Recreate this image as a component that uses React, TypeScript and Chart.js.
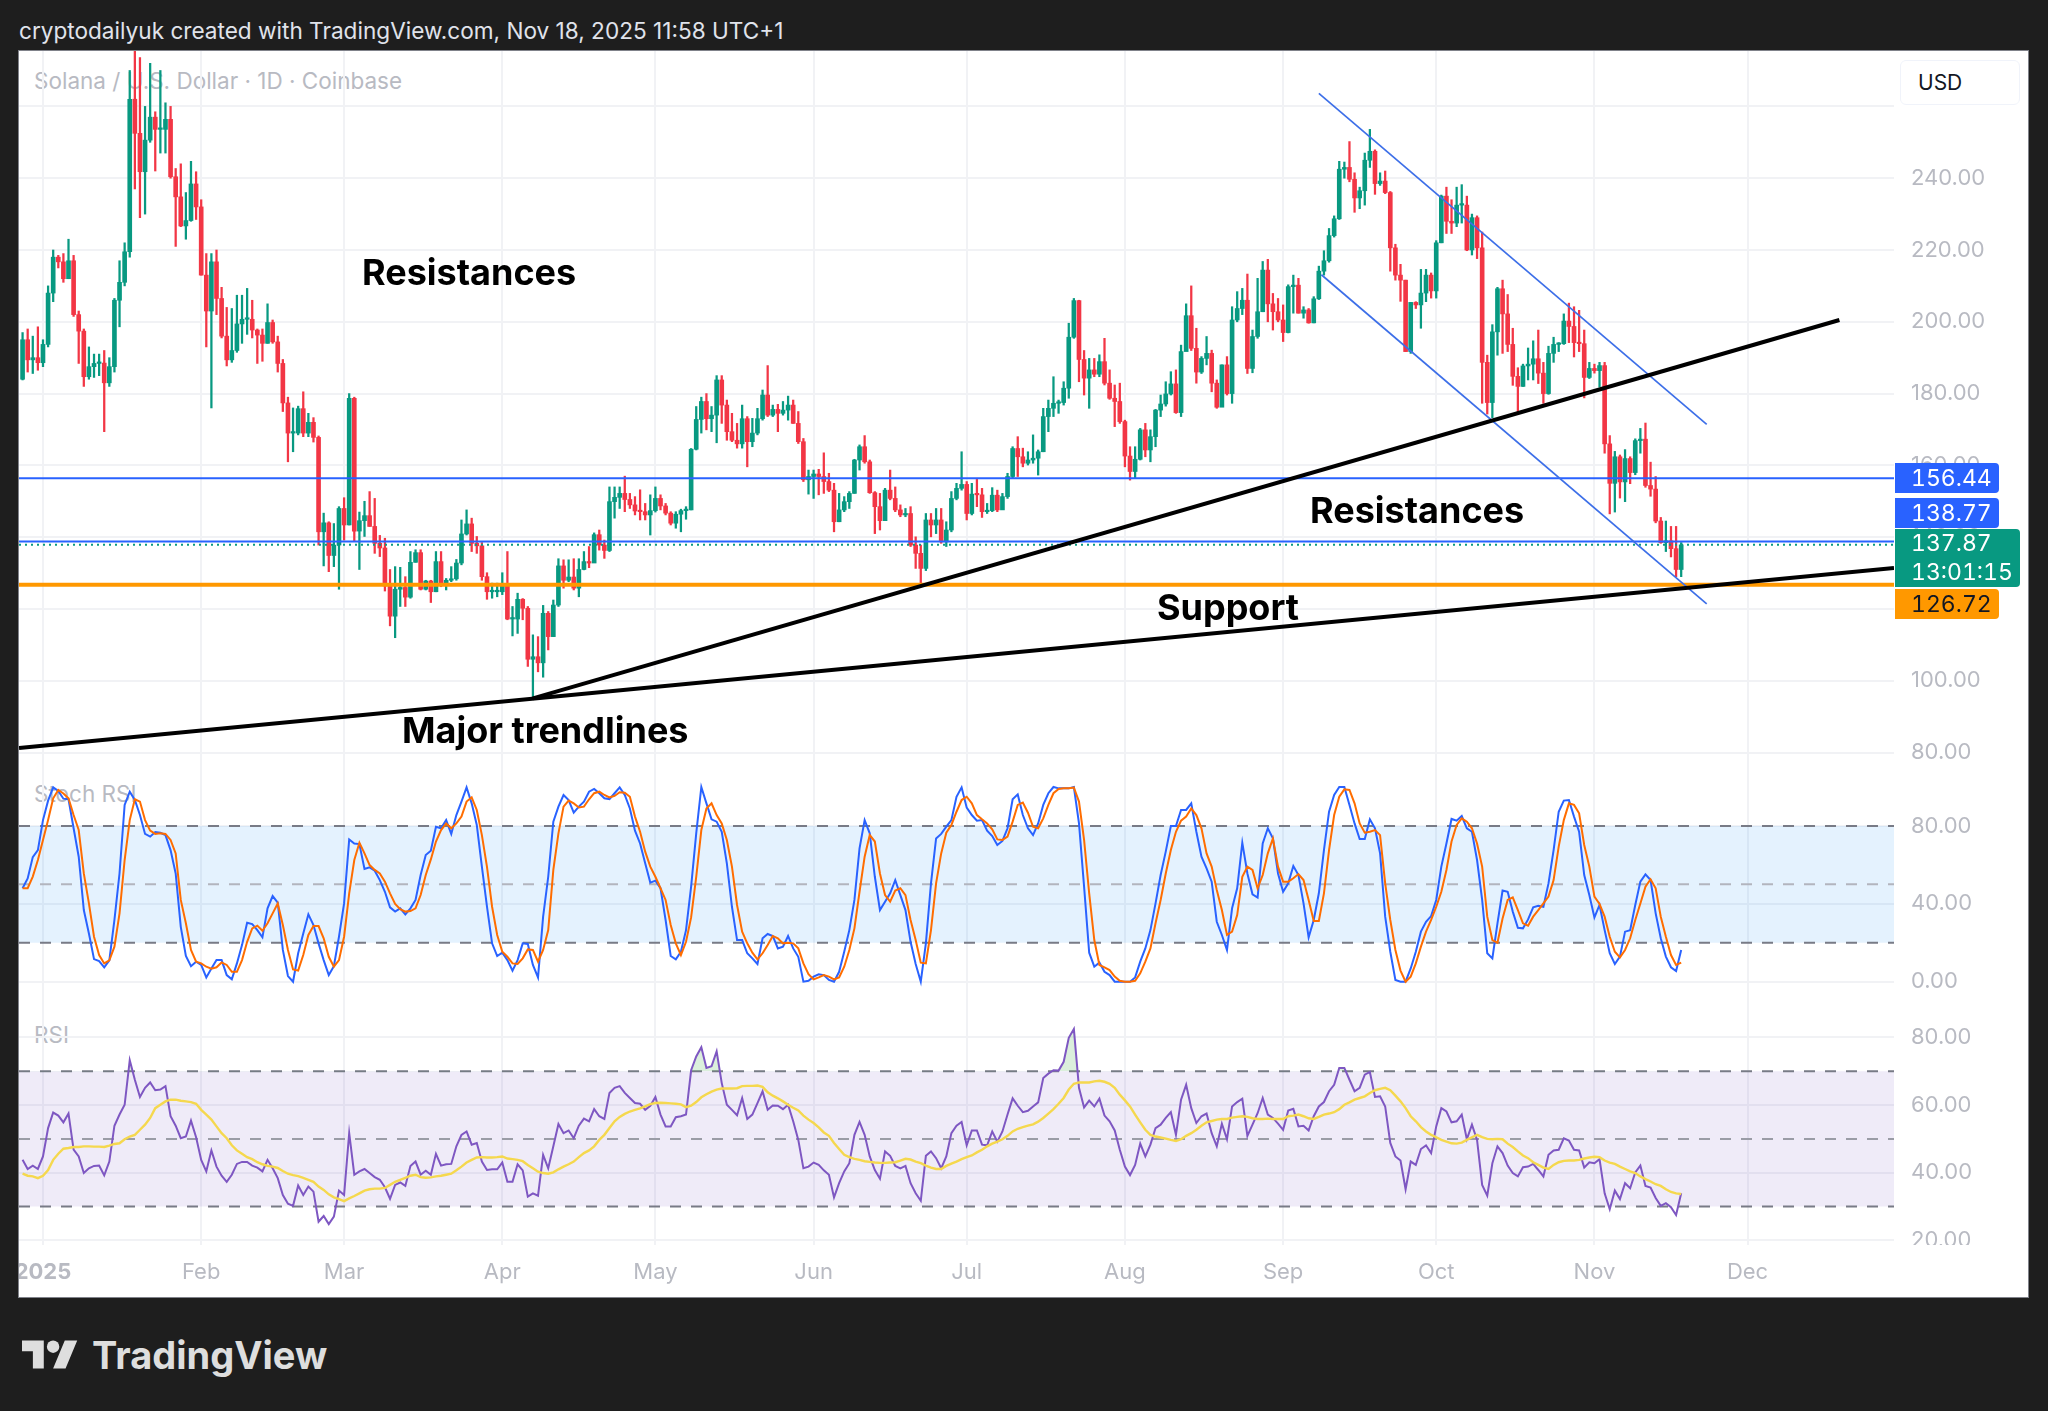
import { useEffect, useRef } from "react";
import { Chart, registerables } from "chart.js";

Chart.register(...registerables);

// x is days since Jan 1 2025, first candle is Dec 28 2024
const firstDay = -4;
const firstOpen = 184;
const xMin = -4.7;
const xMax = 362.7;

const monthTicks = [0, 31, 59, 90, 120, 151, 181, 212, 243, 273, 304, 334];
const monthLabels = ["2025", "Feb", "Mar", "Apr", "May", "Jun", "Jul", "Aug", "Sep", "Oct", "Nov", "Dec"];

const priceTicks = [80, 100, 120, 140, 160, 180, 200, 220, 240, 260];
const stochTicks = [0, 40, 80];
const rsiTicks = [20, 40, 60, 80];

const closes = [
  195, 189.4, 190, 188.6, 193.7, 208, 218, 216.7, 212, 217,
  202, 197.4, 184.7, 187.5, 188.4, 188.5, 183, 187.5, 206, 211,
  219.5, 262, 252.5, 241.8, 250.6, 257, 253.6, 253.6, 256.4, 240.4,
  234.8, 226.7, 228.2, 238.4, 232, 213, 203, 216.7, 206.5, 196,
  189.4, 192, 199.4, 200.7, 200.7, 197.7, 196.3, 194, 199.8, 194.4,
  188.4, 177.4, 169, 169, 175.8, 169, 172, 167.8, 141.5, 144,
  134.9, 137.8, 148, 143.4, 178.7, 141.7, 144.6, 146, 143, 138.3,
  137, 126.4, 118, 125.5, 126, 123.3, 133, 135.7, 125.5, 127.8,
  124.8, 133.2, 126.7, 128, 128.4, 132.8, 140.9, 143.7, 138.3, 137.6,
  129, 124.8, 124.8, 124.8, 126.4, 117.2, 117.2, 122.7, 120.2, 106,
  106.7, 105, 118.8, 112.3, 121.1, 132, 128, 128.9, 125.8, 131,
  133.2, 132.8, 140.7, 137.8, 136.3, 149.9, 151.1, 152.2, 150.5, 149,
  147.3, 147.1, 146.2, 147.4, 150.8, 148.7, 146.7, 143.9, 146.4, 147.4,
  147.6, 164.5, 172.8, 177.8, 173, 174, 183.8, 176.8, 169.4, 167,
  166, 173, 166.6, 169, 173, 179.6, 174, 175.6, 174.5, 175.4,
  176.8, 171.7, 166.6, 156, 156.9, 157.6, 156.9, 155.5, 153.1, 144.3,
  147.6, 149.9, 152.2, 161.5, 165.2, 161, 152.4, 148.5, 144.6, 153.1,
  150.8, 147.6, 146.2, 146.6, 137.8, 135.5, 131.3, 144.8, 143.4, 144.8,
  138.7, 142, 150.8, 153.6, 154.7, 146.6, 152, 151.8, 147.1, 147.4,
  151.7, 147.6, 151.3, 156.9, 164.7, 162.4, 160.6, 161.5, 162, 163.8,
  173.6, 175.9, 177.3, 177.5, 181.5, 195.7, 205.9, 189.5, 184.3, 186.6,
  185.4, 188.9, 182.9, 178.7, 177.8, 172.2, 162.6, 158.3, 161.7, 169.9,
  164.3, 168, 175.4, 177.1, 179.9, 182.7, 174.7, 191.7, 201.7, 192.6,
  186, 189.8, 191.2, 182.9, 176.2, 188, 180, 200.5, 203.7, 206,
  187, 195.9, 202.8, 214.4, 205, 202.8, 200.5, 197, 209.8, 210.2,
  202.4, 203.3, 199.7, 206.4, 214.1, 217, 224, 228.7, 242.5, 243,
  239.7, 234.5, 236.5, 245, 247.5, 238.5, 239.2, 236, 220.6, 213,
  211.6, 191.7, 205.4, 204.7, 208, 213, 208.6, 222, 235, 228,
  227.5, 232.5, 232.5, 220, 229, 220.6, 188.7, 177.5, 197.2, 209.2,
  202.2, 193.7, 184.8, 182, 187.7, 188.2, 189.7, 185.7, 180, 191.2,
  193.7, 193.9, 200.2, 198.7, 194.2, 193.9, 184.5, 187, 186.4, 187.8,
  166, 155, 162.4, 155.4, 161.9, 158, 166.9, 167.3, 154.4, 153.4,
  144.5, 138.5, 139, 136.8, 131, 137.87,
];

const highs = [
  197, 198, 196, 198.6, 195, 210, 220, 218.5, 219, 223,
  218.5, 203, 198, 193, 191, 191, 192, 190, 206.5, 217,
  222, 270, 296, 273.6, 260, 272, 258.5, 270, 261, 260,
  242.7, 244, 236, 244.7, 241.8, 234, 219, 219, 220, 209.6,
  204, 203.7, 207.4, 207.4, 209.3, 206, 198, 198, 205, 200.5,
  196, 189.5, 179, 176, 176.5, 180.5, 174.5, 173.3, 168.2, 146.7,
  144.3, 143.8, 148.5, 151, 180, 179, 147, 150, 152.7, 150.8,
  140.5, 139.7, 131, 131.8, 131.6, 129, 136, 136.5, 136.5, 128,
  128, 136, 136, 128.5, 131.8, 133.8, 144.8, 147.6, 145.3, 140.2,
  138.5, 130.1, 127.2, 127.2, 130.1, 136, 120.7, 124.4, 122.9, 120.7,
  112.8, 112.3, 121, 119.3, 122.5, 134, 133.7, 133.7, 134, 134,
  136, 137.4, 141.2, 142, 139.2, 154, 154, 154, 157, 152.2,
  151.3, 153.2, 149.4, 151.8, 154, 151.8, 149.4, 147.1, 147.1, 147.8,
  148.5, 164.7, 176.4, 179, 180, 176.4, 185, 185, 178.2, 174.5,
  171.7, 176.8, 173.6, 173.1, 175.9, 181, 187.8, 176.8, 177, 177.8,
  179.3, 178.2, 175, 167.5, 158.7, 158.7, 158.9, 163.5, 157.8, 155,
  152.2, 151.3, 152.7, 161.7, 165.7, 168.3, 161.5, 152.7, 152.2, 153.6,
  158.7, 154, 149, 148, 148.5, 140.1, 137.8, 146.6, 146.6, 148,
  148, 144.3, 152.7, 155, 163.8, 155.5, 155, 156.1, 153.6, 149.4,
  153.8, 153.1, 152.2, 157.8, 165.2, 168, 164.8, 163.8, 168.5, 164.3,
  175.9, 178.2, 184.7, 178.2, 183.3, 199.6, 206.5, 206, 192, 189.8,
  189.8, 190.8, 195.4, 186.6, 182.4, 182.9, 172.6, 165.2, 165.2, 170.3,
  171.7, 169.9, 175.6, 179.6, 183.3, 186.1, 186.6, 193.5, 205, 210,
  198.2, 190.3, 195.9, 192.1, 183.8, 188, 190.3, 204.2, 208.4, 209.3,
  213.3, 197.7, 212.1, 216.8, 217.4, 207.9, 206.5, 204.7, 210.3, 213,
  212.1, 204.2, 203.7, 207, 215.5, 219.8, 226, 229.5, 244.7, 244.5,
  250.2, 241.5, 237.5, 247, 253.6, 247.9, 241.5, 242, 236.3, 221.6,
  216, 211.6, 205.4, 205.6, 214.6, 214.6, 213.6, 222.6, 235.3, 237.5,
  234, 237.5, 238.2, 235, 230, 229.5, 225, 190.7, 199.2, 209.6,
  211.6, 207.6, 198.2, 187.2, 188.2, 192.7, 194.7, 197.7, 188.7, 193.2,
  195.7, 194.2, 202.2, 205.2, 204.2, 203.2, 197.7, 188.7, 188.2, 188.7,
  188.7, 168.3, 163.9, 162.9, 164.4, 162.4, 167.4, 170.3, 171.8, 160.9,
  156.9, 145.5, 144.5, 143, 143, 138.5,
];

const lows = [
  183.8, 186, 185.6, 186.5, 187.5, 193, 205.6, 215, 211, 212,
  201.5, 188.4, 182, 184, 184.5, 185, 169.4, 182, 186, 198.6,
  210, 218, 237, 229, 230, 250, 242, 247, 247, 240,
  221, 226.5, 223, 228, 228.5, 213, 193, 176, 202, 195.5,
  187.7, 188.7, 191.5, 194, 196.5, 195.5, 188.4, 189, 194, 194,
  186, 175, 161, 163.8, 168.5, 168, 168, 166.5, 137.8, 132,
  130.4, 131.8, 125.5, 139.2, 143.4, 139, 131, 140.2, 143, 135.5,
  134.6, 125, 115.3, 112, 120.7, 120.7, 123, 133, 125.3, 125.3,
  121.8, 124.8, 126.2, 125.3, 127.6, 128, 132.3, 140.6, 136, 135.5,
  128, 122.7, 123, 123.4, 124, 117, 112.5, 113.2, 117, 104,
  95.1, 102.5, 101, 108.6, 112.3, 120.7, 125.8, 127.6, 125.3, 123.4,
  130.9, 131.5, 134, 136.4, 134.1, 136, 145.3, 148, 147.1, 148,
  146.2, 144.8, 144.8, 140.6, 147, 147.6, 146.2, 143.4, 142.5, 141.5,
  145, 147.6, 164.3, 169, 169.9, 169.4, 166.3, 171.7, 167, 166.6,
  164.8, 164.8, 159.6, 165.2, 168.5, 172.6, 173.6, 173.6, 169.4, 174,
  172.6, 171.7, 166.1, 155.5, 152, 150.8, 151.8, 152.2, 152.7, 141.5,
  144.3, 147.1, 148, 152.2, 158.7, 160.6, 152.2, 141, 142, 144.6,
  150.4, 147.1, 145.7, 145.7, 137.4, 131.3, 126.2, 130.7, 140.1, 141,
  138.3, 137.4, 141.5, 150.4, 153.1, 144.8, 146.2, 148.5, 145.5, 146.6,
  147.1, 147.1, 148, 150.8, 156.4, 156.9, 159.6, 160.1, 160.6, 157.3,
  163.8, 169.4, 173.6, 174.5, 176.8, 178.7, 195.4, 183.3, 179.6, 175.9,
  184.7, 184.7, 182.4, 178.4, 170.8, 171.7, 159.6, 155.9, 156.4, 161.5,
  162.4, 161, 165.2, 173.6, 176.5, 179.6, 174.5, 173.6, 192, 192,
  182.9, 185.6, 188, 180.5, 175.9, 176.4, 179.6, 177.3, 200, 202,
  185.6, 185.8, 195.4, 202.8, 200, 197.7, 200, 194.5, 196.9, 202.4,
  202.4, 201, 199.6, 199.7, 206.2, 213, 216.6, 223.6, 228.5, 240,
  239, 230.5, 231.5, 232.5, 243, 235.5, 238, 235.7, 214.1, 211.6,
  205.7, 191.7, 191.2, 203.7, 198.2, 205.6, 206.6, 206.6, 222, 224.6,
  224.6, 226.5, 227.5, 219.8, 218.6, 217.6, 177.3, 174.3, 173.3, 190.7,
  191.2, 191.7, 182.3, 174.3, 182, 183.8, 183.8, 182.8, 177.3, 179.8,
  188.7, 191.7, 193.7, 194.2, 190.2, 191.7, 178.8, 184.2, 185.7, 181.8,
  163.4, 146.5, 147, 150.9, 149.9, 154.9, 157.4, 163.4, 153.9, 151.4,
  144, 138.3, 136, 134.5, 129, 129,
];

const stochK = [
  48, 53, 64, 67.6, 83, 93, 99.8, 98, 94, 93.7,
  78.8, 64.2, 36.8, 24.8, 11.6, 10.6, 7.4, 11, 31.7, 55.7,
  90.8, 97.6, 93.3, 85.6, 75.9, 74.5, 76.9, 76.5, 75.3, 67.6,
  55.6, 28.2, 13.2, 8, 10.3, 8.6, 2.2, 6.8, 11.1, 11.1,
  3.4, 1.2, 9.4, 18.8, 30.3, 29.6, 26.5, 22.8, 37.7, 44,
  40.6, 16.3, 2.9, 0, 14.6, 24.8, 34.6, 29.1, 19.7, 11.1,
  3.4, 8, 23.1, 40.2, 73.1, 71, 70.7, 57.9, 58.7, 57,
  52.2, 46.2, 38.2, 36, 37.7, 34.6, 37.7, 42, 54.8, 65.1,
  67.3, 79.6, 78.8, 83, 75.9, 85.6, 92.5, 99.8, 91.6, 80.5,
  59.1, 38.5, 19.7, 13.2, 14.9, 11.1, 5.7, 11.1, 19.7, 19.4,
  8.6, 2.2, 33.4, 53.9, 82.2, 89.9, 95.9, 93.3, 86.8, 89.9,
  92.5, 97.6, 99, 96.8, 94.2, 93.8, 96.8, 99.8, 95.9, 89,
  77.6, 71, 60.8, 50.9, 51.9, 48, 31.7, 13.2, 11.5, 15.4,
  26.5, 48.8, 76.2, 100, 91.6, 83.4, 82.2, 77, 60.8, 38.5,
  21.4, 21.4, 14.6, 12, 9.1, 22.3, 24.5, 23.5, 17.1, 18,
  23.5, 17.1, 12.8, 0, 0.5, 2.6, 3.8, 3.4, 0.9, 0,
  5.1, 15.4, 26.5, 42, 68.5, 83, 76.2, 53.9, 36.8, 41.1,
  45.4, 52.2, 44.5, 36.8, 20.5, 9.1, 0, 19.7, 50.5, 73.6,
  75.9, 79.6, 83, 95, 99.8, 89.4, 85.6, 82.7, 83, 77.6,
  74.8, 70.2, 72.3, 78.8, 93.7, 96.2, 85.6, 78.8, 75.3, 81.3,
  90.8, 96.8, 100, 99.3, 99.3, 99.3, 100, 81.3, 48.8, 14.9,
  7.7, 9.8, 5.1, 3.4, 0, 0, 0, 0, 2.2, 10.3,
  17.1, 26.5, 40.2, 54.8, 66.8, 80, 80, 88.2, 88.2, 91.6,
  77, 64.2, 58.2, 51.4, 30.8, 24, 16.3, 37.7, 48, 71.4,
  55.6, 44.9, 43.2, 71, 78.8, 73.6, 55.6, 46.2, 50.5, 59.4,
  54.8, 40.2, 22.8, 31.7, 45.4, 67.6, 87.3, 95.9, 100, 100,
  90.8, 81.3, 73.3, 73.3, 83.4, 78.8, 65.9, 33.4, 15.4, 0.9,
  0, 0, 6.8, 15.4, 25.7, 30.8, 33.7, 42, 59.1, 71,
  83.6, 82.7, 85.1, 78.8, 77, 62.5, 42, 14.6, 12, 30,
  46.8, 46.2, 36, 27.7, 27.4, 32, 38.2, 39, 38.5, 50.5,
  67.6, 87.3, 93, 93.3, 84.8, 77, 54.8, 44.5, 33, 39.4,
  26.5, 14.6, 9.1, 12.9, 25.7, 26.5, 39.4, 51.4, 55.1, 52.2,
  35.1, 22.3, 12.9, 7.4, 5.5, 16.3,
];

const stochD = [
  48, 48, 54, 62.5, 72.8, 83, 94.2, 98.5, 96.7, 94.2,
  85.6, 77.9, 55.6, 40.2, 23.1, 13.7, 9.4, 11, 18, 35.1,
  62.5, 83, 93.7, 92.5, 83, 77.6, 75.9, 76.2, 75.9, 72.8,
  65.9, 42, 30, 16.3, 10.3, 9.4, 7.7, 6.7, 7.4, 9.9,
  8.6, 5.1, 5.1, 11.1, 20.5, 27.4, 28.8, 26.2, 30, 35.1,
  40.2, 29.1, 16.3, 6.3, 5.7, 13.7, 24, 28.6, 28.6, 22.3,
  12.8, 7.7, 11.1, 23.1, 45.4, 62.5, 71.4, 65.9, 59.9, 57.4,
  55.6, 51.4, 45.4, 39.9, 37.2, 36, 36.3, 37.7, 44.5, 54.8,
  62.8, 72, 77.9, 81.3, 78.8, 81.3, 84.8, 92.5, 94.7, 88.2,
  75.3, 59, 38.5, 24, 15.4, 12.8, 9.4, 9.1, 12, 16.6,
  16.3, 10.3, 16.3, 26.5, 57.4, 76.2, 89.9, 93, 91.6, 89.5,
  89.9, 93.7, 96.8, 97.6, 95.9, 94.7, 95.4, 97.3, 97.1, 95,
  84.8, 77, 66.8, 59.1, 53.9, 48, 42, 29.1, 19.7, 13.7,
  20.5, 33, 53.9, 77.9, 89, 91.6, 85.6, 81.3, 72.8, 59.1,
  39.4, 25.7, 19.7, 14.9, 11.5, 14.6, 18.8, 23.5, 22.3, 19.7,
  20, 19.7, 17.1, 9.4, 3.9, 1.2, 2.2, 3.4, 2.6, 1.2,
  2.2, 7.7, 16.3, 27.4, 46.2, 64.2, 75.3, 72, 55.6, 44.5,
  41.1, 46.8, 48, 44.5, 31.7, 21.4, 9.8, 9.4, 26.5, 50.5,
  65.9, 76.5, 80.5, 87.3, 93.3, 95, 91.6, 85.6, 83.4, 81.3,
  78.3, 73.1, 72.8, 74.5, 82.2, 90.8, 92, 86.8, 79.6, 78.8,
  83.9, 90.8, 96.8, 99, 99.3, 99.3, 99.7, 92.5, 72.8, 45.4,
  21.4, 8.6, 7.4, 6, 2.6, 0.5, 0, 0, 0.5, 4.3,
  10.3, 17.1, 30, 42, 55.6, 67.6, 77, 82.7, 84.8, 89,
  85.6, 78.8, 65.9, 59.1, 47.1, 36.8, 24, 25.7, 34.2, 53.9,
  59.1, 57.4, 48, 54.8, 65.9, 73.6, 59.1, 51.4, 51.4, 53.1,
  55.3, 52.2, 42, 31.2, 31.2, 45.4, 67.6, 85.6, 95, 98.8,
  98.5, 91.6, 81.3, 76.5, 77, 77.9, 75.3, 50.5, 31.7, 16.3,
  5.7, 0, 2.6, 9.4, 18, 25.7, 31.7, 38.5, 46.2, 57.4,
  72, 80.5, 83.9, 82.2, 78.8, 71, 59.1, 33.4, 21.4, 20,
  32.5, 42, 43.3, 36.8, 30, 28.8, 33.4, 36.8, 40.2, 43.7,
  52.2, 69.4, 83, 91.6, 90.8, 86.5, 70.2, 59.1, 43.7, 39.9,
  33.4, 23.1, 15.4, 12.5, 16.3, 22.3, 31.7, 40.2, 48.8, 52.6,
  48, 33.4, 23.1, 13.7, 8.6, 9.8,
];

const rsi = [
  43.8, 41.1, 42.1, 41.1, 44.8, 53.2, 57.8, 56.9, 54.9, 57.5,
  46.8, 44.8, 39.9, 41.3, 42, 42.1, 39.2, 43.3, 53.9, 57.2,
  60.1, 73.3, 67.5, 62.4, 65.1, 66.7, 64.4, 64.6, 65.6, 56.7,
  53.9, 50.2, 50.7, 55.4, 50.5, 43.8, 40.4, 46.6, 41.8, 39.1,
  37.3, 39.4, 42.6, 43.2, 43.2, 42.1, 41.5, 40.4, 43.8, 41.3,
  38.4, 33.4, 30.8, 30.2, 36.2, 33.4, 35.9, 34.4, 25.5, 27.2,
  24.8, 27, 34.7, 33.4, 51.7, 39.4, 40.4, 41.1, 39.9, 38.7,
  37.9, 35.7, 32.3, 36.4, 37.1, 36.1, 42, 43.3, 39.4, 40.6,
  39.4, 45.6, 42.1, 42.5, 42.6, 47.8, 51.2, 52.2, 48.3, 48.8,
  43.3, 40.8, 41, 41, 43, 37.3, 37.3, 42.5, 40.7, 32.9,
  33.9, 33.2, 45.3, 41.3, 47.8, 54.4, 51.7, 52.5, 50.2, 53.9,
  56, 55.2, 58.8, 56.7, 55.9, 63.6, 65.1, 65.6, 63.6, 62.1,
  60.6, 60.4, 58.6, 59.8, 62.4, 57.2, 53.7, 53.7, 56.4, 56.7,
  57.2, 70.3, 74.4, 77.1, 71, 71.5, 75.9, 66.5, 60.1, 58.6,
  57, 62.1, 55.9, 57.2, 60.6, 64.1, 58.6, 59.9, 59.8, 58.8,
  60.1, 55.2, 49.7, 41.3, 41.8, 43, 42.3, 40.7, 39.4, 32.7,
  36.9, 40.4, 42.8, 51.2, 55, 51.2, 44.8, 40.8, 38.2, 46.3,
  45, 42, 41.3, 42, 36.9, 33.9, 31.7, 45, 46.3, 44.3,
  41.3, 44.8, 51.7, 53.9, 55, 48.1, 52.5, 52.5, 48.3, 48.1,
  52.2, 49.2, 52.2, 57.2, 62, 59.8, 57.9, 58.3, 59.6, 60.8,
  68, 69.3, 70.3, 70.2, 72.8, 79.9, 82.5, 65.1, 59.3, 61.3,
  59.6, 61.9, 56.9, 55.2, 52.5, 46.8, 41.8, 39.3, 42.3, 48.6,
  44.8, 48.3, 53.2, 54.2, 56.2, 57.9, 51.2, 61.6, 66, 59.1,
  54.7, 56.7, 57.5, 51.7, 47.8, 54.5, 49.9, 59.6, 60.9, 61.9,
  50.9, 54.2, 57.6, 62.1, 57.2, 56.2, 54.5, 52.7, 58.4, 58.9,
  53.7, 53.9, 52.5, 56.7, 59.6, 60.9, 64.1, 66, 71, 71,
  67.5, 64.1, 65.1, 69, 69.8, 62.4, 62.6, 59.6, 48.8, 44.8,
  43.6, 35.1, 43.3, 42.3, 47, 48.1, 45.8, 53.7, 59.1, 58.1,
  54.9, 55.2, 57.2, 49.9, 54.2, 49.7, 36.4, 33.2, 42.8, 47.8,
  45.8, 42.1, 39.9, 38.9, 41.6, 41.8, 42.6, 40.8, 38.9, 45.3,
  46.6, 46.8, 50.2, 49.5, 46.8, 46.6, 41.5, 43.1, 42.8, 44,
  33.9, 29.2, 34.7, 32.2, 36.9, 35.4, 40.1, 42.1, 36.1, 35.6,
  32.5, 30.2, 31, 29.8, 27.5, 33.9,
];

const rsiMa = [
  39.7, 39.1, 38.9, 38.4, 39.1, 40.8, 43.8, 45.6, 47.1, 47.3,
  47.6, 47.6, 47.8, 47.8, 47.7, 47.7, 47.6, 48, 48.5, 48.7,
  49.9, 50.7, 51.2, 52.7, 54.2, 56.2, 59.1, 60.1, 61.1, 61.6,
  61.6, 61.3, 61.1, 60.9, 60.4, 58.6, 57.2, 55.7, 53.7, 51.7,
  50.2, 48.1, 46.6, 45.6, 44.6, 44, 43.1, 42.5, 42, 41.8,
  41.4, 40.5, 39.7, 39.3, 39, 38.5, 37.9, 37.3, 35.9, 34.9,
  33.6, 32.7, 32.2, 31.6, 32.4, 33.1, 33.9, 34.7, 35.1, 35.3,
  35.3, 35.5, 36.4, 37.3, 37.9, 38.5, 39.1, 39.4, 38.7, 38.5,
  38.6, 38.9, 39.1, 39.4, 39.7, 40.7, 41.8, 43, 43.8, 44.5,
  44.6, 44.5, 44.5, 44.6, 44.8, 44.2, 44, 43.8, 43.4, 42.3,
  41.3, 40.3, 39.9, 39.7, 40.1, 41, 41.8, 42.5, 43.3, 44.6,
  45.8, 46.6, 47.8, 49.7, 51.2, 53.2, 55.2, 56.5, 57.4, 58.1,
  58.6, 59, 59.6, 60.3, 60.6, 60.7, 60.6, 60.5, 60.4, 60.2,
  59.4, 59.8, 60.9, 62.3, 63.2, 64, 64.6, 64.9, 64.9, 64.9,
  65, 65.6, 65.7, 65.7, 65.8, 65.4, 63.8, 62.8, 62, 61.1,
  60.1, 59.2, 58.4, 56.9, 55.7, 54.7, 53.4, 51.9, 50.9, 48.8,
  47, 45.3, 44.6, 44.1, 43.8, 43.4, 43.2, 43, 42.9, 42.9,
  43, 43.1, 43.6, 44.1, 43.9, 43.3, 42.8, 42.1, 41.5, 41.1,
  41.1, 42, 42.7, 43.3, 44, 44.6, 45.1, 46, 46.8, 47.8,
  48.6, 49.2, 49.9, 50.9, 52.2, 53, 53.5, 53.9, 54.3, 55.1,
  56.2, 57.5, 58.8, 60.4, 62.1, 64.6, 66.3, 66.7, 66.7, 66.7,
  67, 67.2, 66.9, 66.3, 65.1, 63.1, 61.4, 59.6, 57.2, 54.9,
  52.7, 51.2, 50.7, 50.4, 50.1, 49.7, 49.4, 49.9, 50.9, 51.7,
  52.7, 53.9, 54.9, 55.3, 55.7, 55.9, 55.9, 56.3, 56.5, 56.7,
  56.5, 56.1, 55.9, 55.9, 56, 55.9, 55.9, 55.9, 56.7, 56.9,
  57.2, 56.7, 56.1, 55.9, 56.5, 57.2, 57.5, 57.9, 58.8, 60.1,
  60.8, 61.6, 62.1, 62.6, 63.6, 64.4, 64.8, 65.1, 64.4, 62.8,
  61.1, 59.1, 56.7, 55.2, 53.5, 52.2, 51.2, 50.5, 49.7, 49.2,
  48.7, 48.6, 48.9, 49.7, 50.5, 51.2, 50.5, 50, 49.9, 50,
  49.9, 48.6, 47.6, 46.3, 45.1, 44.3, 43.1, 42.3, 41.5, 41.1,
  42.3, 43.1, 43.5, 43.6, 43.6, 43.8, 44.2, 44.5, 44.7, 44.6,
  43.6, 43, 42.6, 41.8, 41.1, 40.4, 39.9, 38.9, 38.1, 37.4,
  36.6, 36.1, 35.1, 34.3, 33.9, 33.7,
];

// x0, price0, x1, price1
const trendLines = [
  [-4.7, 81.3, 362.7, 131.4],
  [96, 95.1, 352, 200.5],
];
const channelLines = [
  [250, 263.6, 326, 171.4],
  [250.5, 213.1, 326, 121.4],
];
const resistances = [156.44, 138.77];
const lastPrice = 137.87;
const support = 126.72;

const GREEN = "#089981";
const RED = "#f23645";
const BLUE = "#2962ff";
const ORANGE = "#ff9800";
const GRID = "#f1f2f5";
const LABEL = "#b8bac2";
const FONT = "Inter";

const panel = { left: 19, top: 51, width: 2009, height: 1246 };
const AXIS_W = 134;
const XAXIS_H = 52;

const days = closes.map((_, i) => firstDay + i);
// market runs 24h so each candle opens where the last one closed
const opens = closes.map((_, i) => (i ? closes[i - 1] : firstOpen));
const candleColors = closes.map((c, i) => (c >= opens[i] ? GREEN : RED));

const series = (values: number[]) => values.map((y, i) => ({ x: days[i], y }));

const segment = (
  [x0, y0, x1, y1]: number[],
  yAxisID: string,
  borderColor: string,
  borderWidth: number,
  order: number,
  borderDash: number[] = []
) => ({
  type: "line" as const,
  yAxisID,
  data: [
    { x: x0, y: y0 },
    { x: x1, y: y1 },
  ],
  borderColor,
  borderWidth,
  borderDash,
  pointRadius: 0,
  order,
});

const level = (
  y: number,
  yAxisID: string,
  color: string,
  width: number,
  order: number,
  dash: number[] = []
) => segment([xMin, y, xMax, y], yAxisID, color, width, order, dash);

const band = (top: number, bottom: number, yAxisID: string, color: string) => ({
  type: "line" as const,
  yAxisID,
  data: [
    { x: xMin, y: top },
    { x: xMax, y: top },
  ],
  borderWidth: 0,
  pointRadius: 0,
  fill: { target: { value: bottom }, above: color, below: color },
  order: 100,
});

// no label reserve on the axes, the panes fill the canvas edge to edge
const noPadding = (s: any) => {
  s.paddingLeft = 0;
  s.paddingRight = 0;
  s.paddingTop = 0;
  s.paddingBottom = 0;
};

const yAxis = (
  min: number,
  max: number,
  ticks: number[],
  stackWeight: number,
  weight: number,
  hidden: number[] = []
) => ({
  type: "linear" as const,
  position: "right" as const,
  stack: "panes",
  stackWeight,
  weight,
  min,
  max,
  border: { display: false },
  grid: { color: GRID, lineWidth: 2, drawTicks: false },
  afterBuildTicks: (s: any) => {
    s.ticks = ticks.map((value) => ({ value }));
  },
  afterFit: (s: any) => {
    s.width = AXIS_W;
    noPadding(s);
  },
  ticks: {
    autoSkip: false,
    color: LABEL,
    padding: 17,
    font: { family: FONT, size: 22 },
    callback: (v: any) => (hidden.includes(v) ? "" : Number(v).toFixed(2)),
  },
});

function PaneChart() {
  const chartRef = useRef<HTMLCanvasElement | null>(null);

  useEffect(() => {
    if (!chartRef.current) return;

    const chart = new Chart(chartRef.current, {
      type: "bar",
      data: {
        datasets: [
          {
            type: "bar",
            yAxisID: "price",
            data: days.map((x, i) => ({ x, y: [lows[i], highs[i]] })),
            backgroundColor: candleColors,
            barThickness: 1.6,
            grouped: false,
            order: 60,
          },
          {
            type: "bar",
            yAxisID: "price",
            data: days.map((x, i) => ({ x, y: [opens[i], closes[i]] })),
            backgroundColor: candleColors,
            barThickness: 4,
            minBarLength: 1.5,
            grouped: false,
            order: 50,
          },
          level(resistances[0], "price", BLUE, 2, 40),
          level(resistances[1], "price", BLUE, 2, 40),
          level(lastPrice, "price", GREEN, 2, 41, [2, 4]),
          level(support, "price", ORANGE, 4, 39),
          ...channelLines.map((l) => segment(l, "price", "#3d6fe8", 1.7, 30)),
          ...trendLines.map((l) => segment(l, "price", "#000000", 4, 20)),

          band(80, 20, "stoch", "rgba(33,150,243,0.12)"),
          level(80, "stoch", "#787b86", 2, 90, [11, 10]),
          level(50, "stoch", "#b2b5be", 2, 90, [11, 10]),
          level(20, "stoch", "#787b86", 2, 90, [11, 10]),
          {
            type: "line",
            yAxisID: "stoch",
            data: series(stochK),
            borderColor: BLUE,
            borderWidth: 2,
            pointRadius: 0,
            order: 11,
          },
          {
            type: "line",
            yAxisID: "stoch",
            data: series(stochD),
            borderColor: "#ff6d00",
            borderWidth: 2,
            pointRadius: 0,
            order: 10,
          },

          band(70, 30, "rsi", "rgba(126,87,194,0.12)"),
          level(70, "rsi", "#787b86", 2, 90, [11, 10]),
          level(50, "rsi", "#9a9ca6", 2, 90, [11, 10]),
          level(30, "rsi", "#787b86", 2, 90, [11, 10]),
          {
            type: "line",
            yAxisID: "rsi",
            data: series(rsi),
            borderColor: "#7e57c2",
            borderWidth: 2,
            pointRadius: 0,
            fill: {
              target: { value: 70 },
              above: "rgba(76,175,80,0.2)",
              below: "transparent",
            },
            order: 11,
          },
          {
            type: "line",
            yAxisID: "rsi",
            data: series(rsiMa),
            borderColor: "#f5d84e",
            borderWidth: 2.4,
            pointRadius: 0,
            order: 10,
          },
        ] as any,
      },
      options: {
        animation: false,
        responsive: false,
        events: [],
        layout: { padding: 0 },
        plugins: {
          legend: { display: false },
          tooltip: { enabled: false },
        },
        scales: {
          x: {
            type: "linear",
            min: xMin,
            max: xMax,
            offset: false,
            border: { display: false },
            grid: { color: GRID, lineWidth: 2, drawTicks: false, offset: false },
            afterBuildTicks: (s: any) => {
              s.ticks = monthTicks.map((value) => ({ value }));
            },
            afterFit: (s: any) => {
              s.height = XAXIS_H;
              noPadding(s);
            },
            ticks: {
              autoSkip: false,
              maxRotation: 0,
              color: LABEL,
              padding: 14,
              font: (c: any) => ({
                family: FONT,
                size: 22,
                weight: c.index === 0 ? "bold" : "normal",
              }),
              callback: (v: any) => monthLabels[monthTicks.indexOf(v)],
            },
          },
          price: yAxis(75.15, 275.43, priceTicks, 719, 1, [260]),
          stoch: yAxis(-12.99, 108.73, stochTicks, 237, 2),
          rsi: yAxis(18.61, 89.02, rsiTicks, 238, 3),
        } as any,
      },
    });

    return () => {
      chart.destroy();
    };
  }, []);

  return (
    <canvas
      ref={chartRef}
      width={panel.width}
      height={panel.height}
      style={{ position: "absolute", left: panel.left, top: panel.top }}
    ></canvas>
  );
}

const at = (left: number, top: number, extra: object = {}) => ({
  position: "absolute" as const,
  left,
  top,
  transform: "translateY(-50%)",
  whiteSpace: "nowrap" as const,
  fontFamily: FONT,
  ...extra,
});

function Note({ left, top, text }: { left: number; top: number; text: string }) {
  return (
    <div style={at(left, top, { fontSize: 36, fontWeight: 700, color: "#000" })}>
      {text}
    </div>
  );
}

function Tag({
  top,
  height,
  width = 104,
  background,
  color = "#fff",
  lines,
}: {
  top: number;
  height: number;
  width?: number;
  background: string;
  color?: string;
  lines: string[];
}) {
  return (
    <div
      style={{
        position: "absolute",
        left: 1895,
        top,
        width,
        height,
        background,
        color,
        borderRadius: "0 4px 4px 0",
        fontFamily: FONT,
        fontSize: 23,
        fontVariantNumeric: "tabular-nums",
        lineHeight: `${height / lines.length}px`,
        paddingLeft: 16,
        boxSizing: "border-box",
      }}
    >
      {lines.map((l) => (
        <div key={l}>{l}</div>
      ))}
    </div>
  );
}

export default function App() {
  return (
    <div
      style={{
        position: "absolute",
        left: 0,
        top: 0,
        width: 2048,
        height: 1411,
        background: "#1e1e1e",
        overflow: "hidden",
      }}
    >
      <div style={at(19, 30, { fontSize: 22.6, color: "#e0e3eb" })}>
        cryptodailyuk created with TradingView.com, Nov 18, 2025 11:58 UTC+1
      </div>

      <div
        style={{
          position: "absolute",
          left: panel.left,
          top: panel.top,
          width: panel.width,
          height: panel.height,
          background: "#fff",
          outline: "1px solid #80828a",
        }}
      ></div>

      <div style={at(34, 80, { fontSize: 22.5, color: LABEL })}>
        Solana / U.S. Dollar · 1D · Coinbase
      </div>
      <div style={at(34, 793, { fontSize: 22.5, color: LABEL })}>Stoch RSI</div>
      <div style={at(34, 1034, { fontSize: 22.5, color: LABEL })}>RSI</div>

      <PaneChart />

      <Note left={362} top={272} text="Resistances" />
      <Note left={1310} top={510} text="Resistances" />
      <Note left={1157} top={607} text="Support" />
      <Note left={402} top={730} text="Major trendlines" />

      <div
        style={{
          position: "absolute",
          left: 1900,
          top: 60,
          width: 120,
          height: 45,
          boxSizing: "border-box",
          background: "#fff",
          border: "1px solid #f0f3fa",
          borderRadius: 6,
          color: "#131722",
          fontFamily: FONT,
          fontSize: 21,
          lineHeight: "43px",
          paddingLeft: 17,
        }}
      >
        USD
      </div>

      <Tag top={463} height={30} background={BLUE} lines={["156.44"]} />
      <Tag top={498} height={30} background={BLUE} lines={["138.77"]} />
      <Tag
        top={529}
        height={58}
        width={125}
        background={GREEN}
        lines={["137.87", "13:01:15"]}
      />
      <Tag
        top={589}
        height={30}
        background={ORANGE}
        color="#131722"
        lines={["126.72"]}
      />

      <div
        style={{
          position: "absolute",
          left: 1895,
          top: 1245,
          width: 130,
          height: 8,
          background: "#fff",
        }}
      ></div>

      <svg
        viewBox="0 0 36 28"
        width={56}
        height={44}
        style={{ position: "absolute", left: 22, top: 1334 }}
      >
        <path
          fill="#dedede"
          d="M14 22H7V11H0V4h14v18zM28 22h-8l7.5-18h8L28 22z"
        />
        <circle fill="#dedede" cx="20" cy="8" r="4" />
      </svg>
      <div
        style={at(92, 1355, { fontSize: 38, fontWeight: 700, color: "#dedede" })}
      >
        TradingView
      </div>
    </div>
  );
}
